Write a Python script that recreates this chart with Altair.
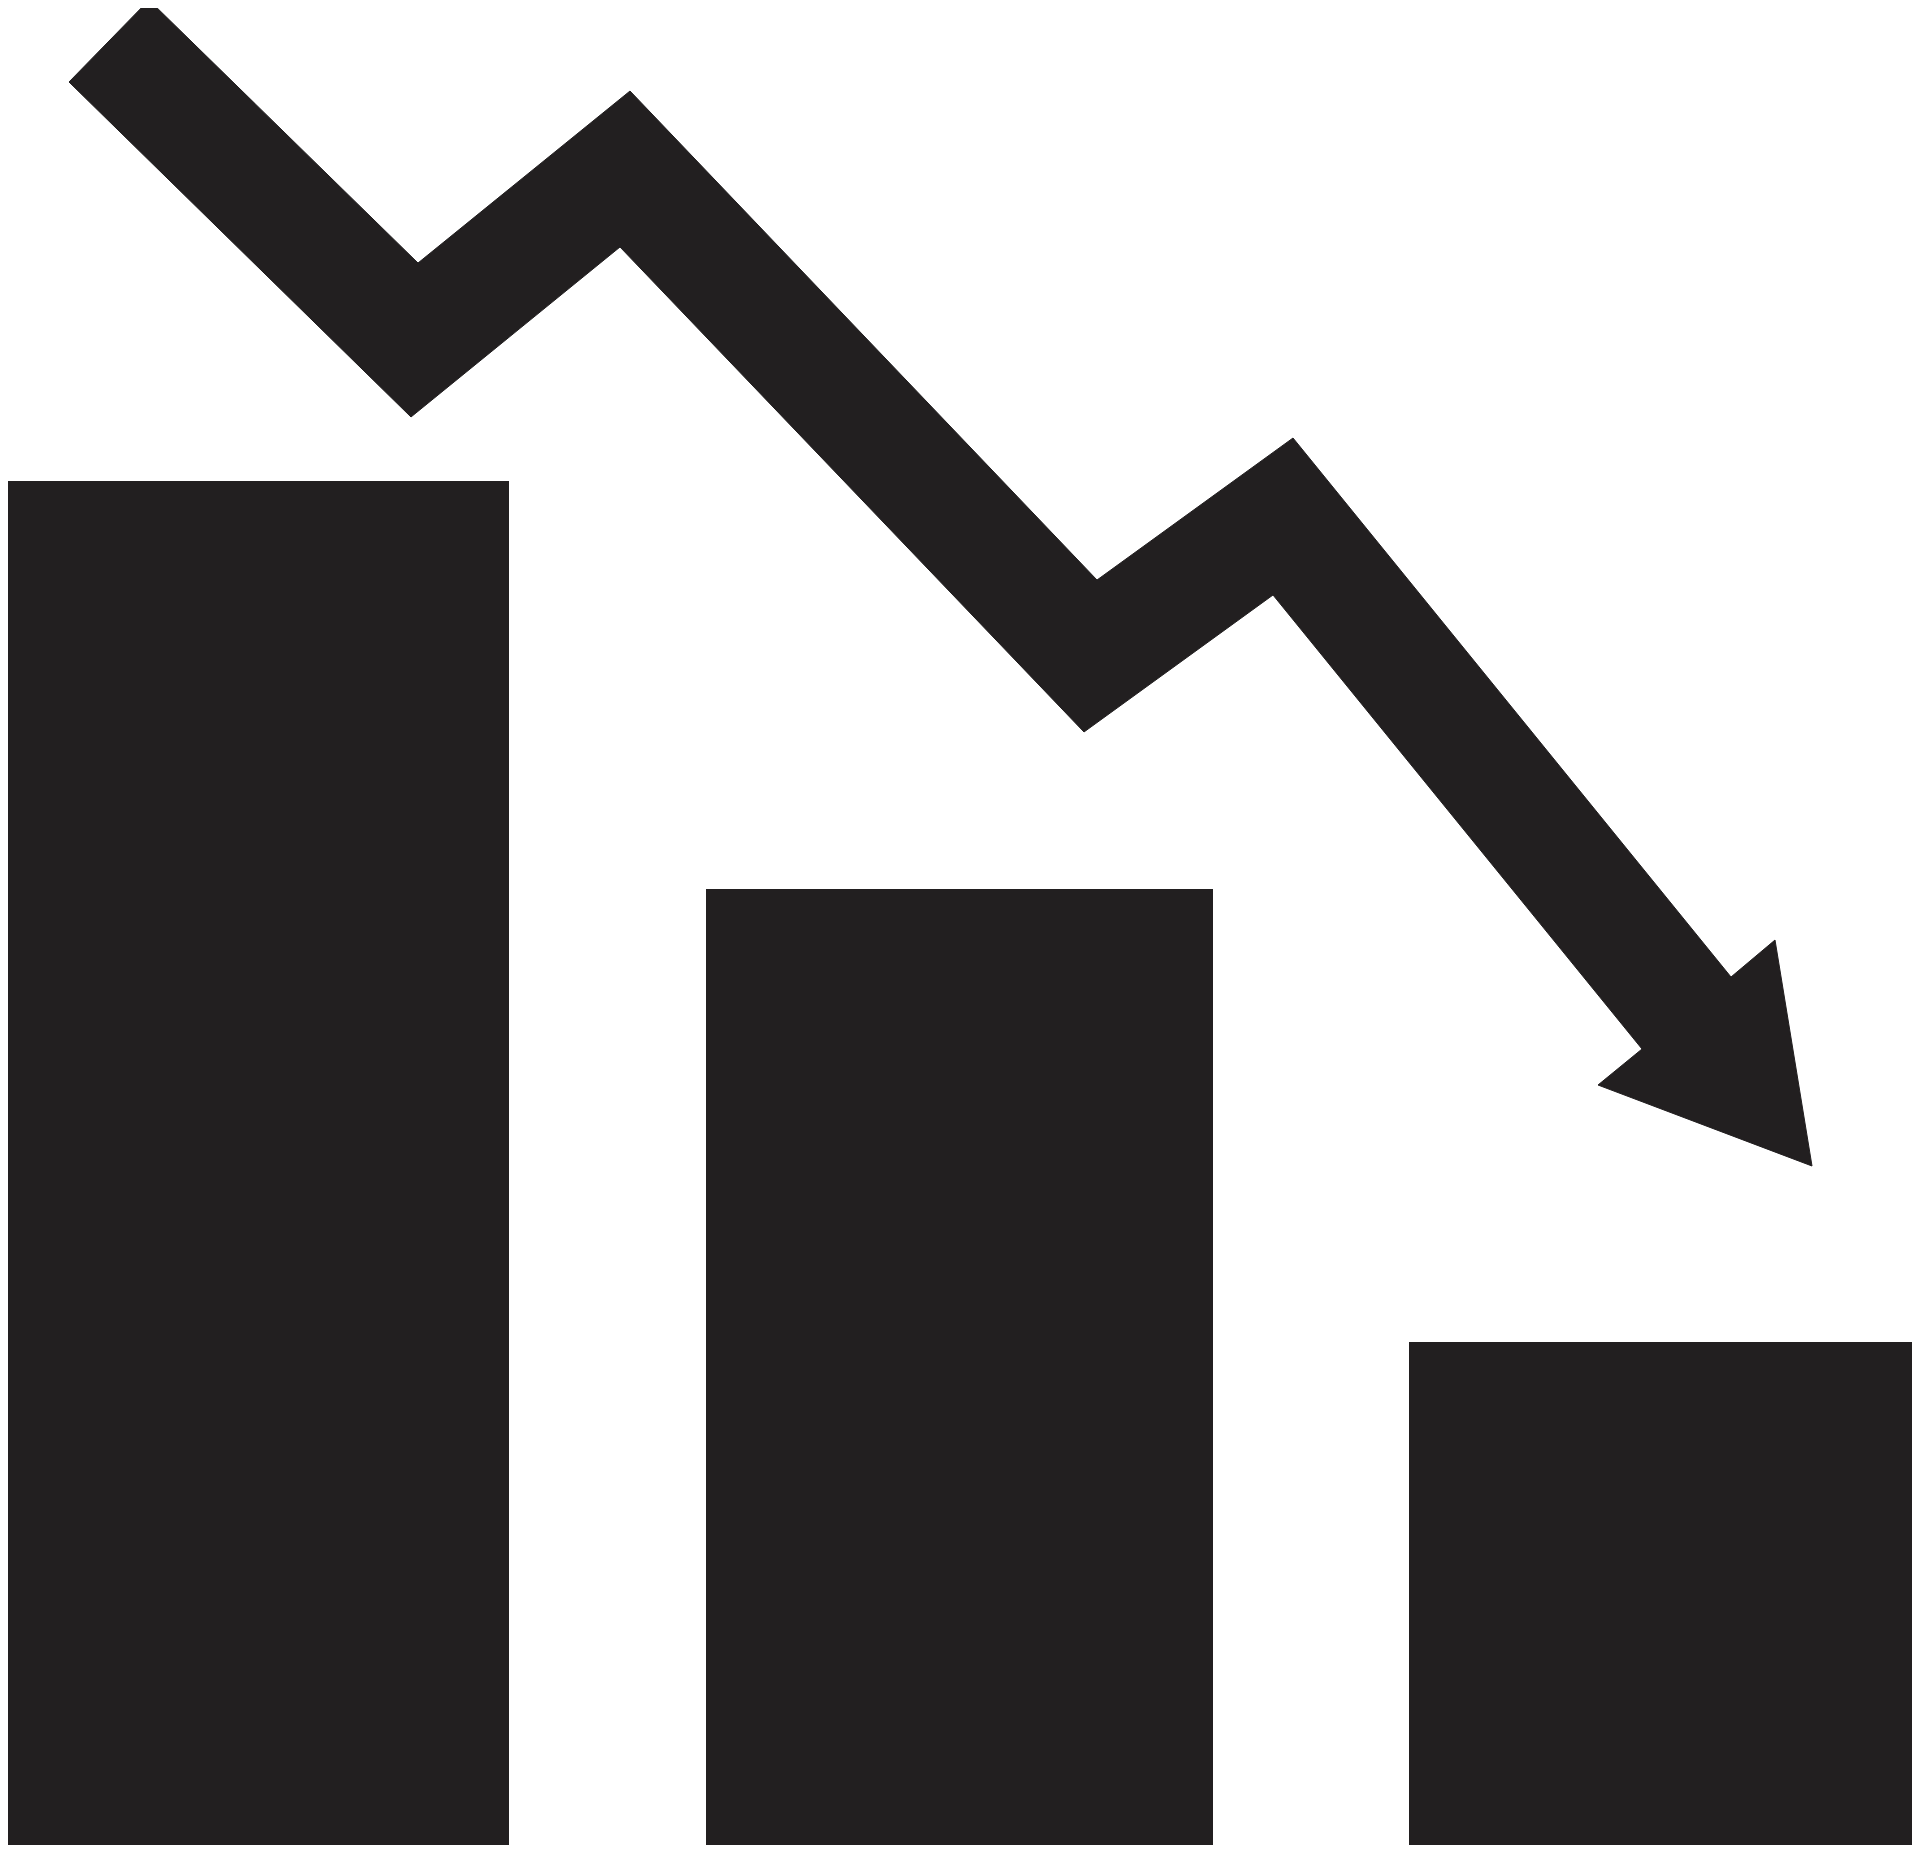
import altair as alt
import pandas as pd

# Bars (x in reference pixels, height measured up from the common baseline)
bar_names = ["A", "B", "C"]
bar_left = [1, 706, 1409]
bar_right = [509, 1213, 1917]
bar_height = [1370, 962, 509]

# Downward zig-zag arrow outline (x in reference pixels, y measured up from the baseline)
arrow_x = [149, 418, 630, 1097, 1293, 1731, 1775, 1812, 1598, 1642, 1273, 1084, 620, 411, 69, 149]
arrow_y = [1851, 1588, 1760, 1271, 1413, 874, 911, 685, 766, 802, 1256, 1119, 1604, 1434, 1769, 1851]

INK = "#221F20"

bars = pd.DataFrame({
    "name": bar_names,
    "x0": bar_left,
    "x1": bar_right,
    "top": bar_height,
    "base": [0] * len(bar_names),
})
arrow = pd.DataFrame({"x": arrow_x, "y": arrow_y, "i": list(range(len(arrow_x)))})

xs = alt.Scale(domain=[8, 1912], nice=False, zero=False)
ys = alt.Scale(domain=[6, 1843], nice=False, zero=False)

bar_layer = alt.Chart(bars).mark_rect(color=INK, clip=True).encode(
    x=alt.X("x0:Q", scale=xs, axis=None),
    x2="x1:Q",
    y=alt.Y("top:Q", scale=ys, axis=None),
    y2="base:Q",
)

arrow_layer = alt.Chart(arrow).mark_line(
    fill=INK, stroke=INK, strokeWidth=1, clip=True, interpolate="linear"
).encode(
    x=alt.X("x:Q", scale=xs, axis=None),
    y=alt.Y("y:Q", scale=ys, axis=None),
    order="i:Q",
)

chart = alt.layer(bar_layer, arrow_layer).properties(
    width=1904, height=1837, padding=0, background="white",
    autosize=alt.AutoSizeParams(type="none"),
).configure_view(stroke=None)

chart.save("out.html", embed_options={"renderer": "svg", "actions": False})
